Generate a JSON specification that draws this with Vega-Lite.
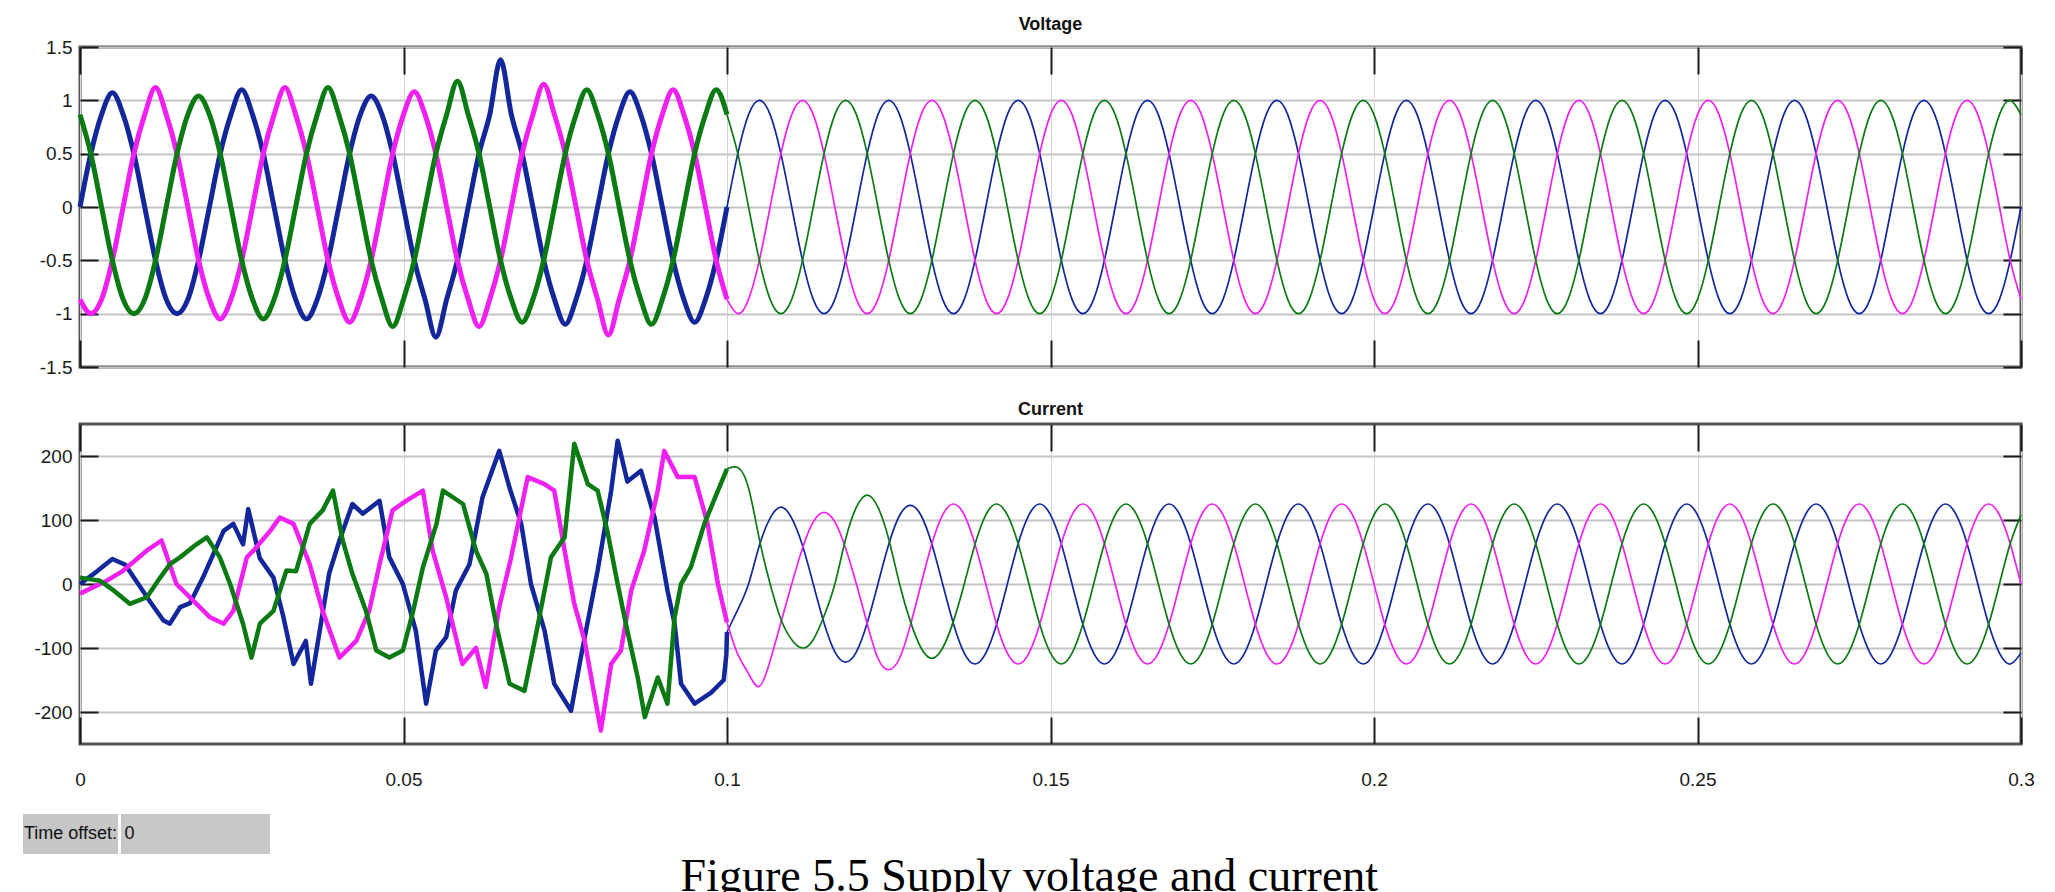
{
"$schema":"https://vega.github.io/schema/vega-lite/v6.json",
"background":"white",
"padding":{"left":23,"top":14,"right":0,"bottom":0},
"config":{
 "font":"Liberation Sans Narrow, Liberation Sans",
 "view":{"stroke":"#555555","strokeWidth":3},
 "axis":{"labelFont":"Liberation Sans Narrow, Liberation Sans","labelFontSize":19,"labelColor":"#1a1a1a","domain":false,"tickColor":"#1a1a1a","tickWidth":2},
 "title":{"font":"Liberation Sans Narrow, Liberation Sans","fontSize":18,"fontWeight":"bold","color":"#111","offset":0,"anchor":"middle"}
},
"title":{"text":"Figure 5.5 Supply voltage and current","orient":"bottom","anchor":"middle","font":"Liberation Serif","fontSize":46,"fontWeight":"normal","color":"#000","offset":1},
"datasets":{
"volt":[
{"t":0,"a":0,"b":-0.866,"c":0.866},{"t":0.00167,"a":0.5,"b":-1,"c":0.5},{"t":0.00333,"a":0.866,"b":-0.866,"c":0},{"t":0.005,"a":1.07,"b":-0.5,"c":-0.5},{"t":0.00667,"a":0.866,"b":0,"c":-0.866},{"t":0.00833,"a":0.5,"b":0.5,"c":-1},{"t":0.01,"a":0,"b":0.866,"c":-0.866},{"t":0.01167,"a":-0.5,"b":1.12,"c":-0.5},{"t":0.01333,"a":-0.866,"b":0.866,"c":0},{"t":0.015,"a":-1,"b":0.5,"c":0.5},{"t":0.01667,"a":-0.866,"b":0,"c":0.866},{"t":0.01833,"a":-0.5,"b":-0.5,"c":1.04},
{"t":0.02,"a":0,"b":-0.866,"c":0.866},{"t":0.02167,"a":0.5,"b":-1.05,"c":0.5},{"t":0.02333,"a":0.866,"b":-0.866,"c":0},{"t":0.025,"a":1.1,"b":-0.5,"c":-0.5},{"t":0.02667,"a":0.866,"b":0,"c":-0.866},{"t":0.02833,"a":0.5,"b":0.5,"c":-1.05},{"t":0.03,"a":0,"b":0.866,"c":-0.866},{"t":0.03167,"a":-0.5,"b":1.12,"c":-0.5},{"t":0.03333,"a":-0.866,"b":0.866,"c":0},{"t":0.035,"a":-1.05,"b":0.5,"c":0.5},{"t":0.03667,"a":-0.866,"b":0,"c":0.866},{"t":0.03833,"a":-0.5,"b":-0.5,"c":1.12},
{"t":0.04,"a":0,"b":-0.866,"c":0.866},{"t":0.04167,"a":0.5,"b":-1.08,"c":0.5},{"t":0.04333,"a":0.866,"b":-0.866,"c":0},{"t":0.045,"a":1.04,"b":-0.5,"c":-0.5},{"t":0.04667,"a":0.866,"b":0,"c":-0.866},{"t":0.04833,"a":0.5,"b":0.5,"c":-1.12},{"t":0.05,"a":0,"b":0.866,"c":-0.866},{"t":0.05167,"a":-0.5,"b":1.08,"c":-0.5},{"t":0.05333,"a":-0.866,"b":0.866,"c":0},{"t":0.055,"a":-1.22,"b":0.5,"c":0.5},{"t":0.05667,"a":-0.866,"b":0,"c":0.866},{"t":0.05833,"a":-0.5,"b":-0.5,"c":1.18},
{"t":0.06,"a":0,"b":-0.866,"c":0.866},{"t":0.06167,"a":0.5,"b":-1.12,"c":0.5},{"t":0.06333,"a":0.866,"b":-0.866,"c":0},{"t":0.065,"a":1.38,"b":-0.5,"c":-0.5},{"t":0.06667,"a":0.866,"b":0,"c":-0.866},{"t":0.06833,"a":0.5,"b":0.5,"c":-1.08},{"t":0.07,"a":0,"b":0.866,"c":-0.866},{"t":0.07167,"a":-0.5,"b":1.15,"c":-0.5},{"t":0.07333,"a":-0.866,"b":0.866,"c":0},{"t":0.075,"a":-1.1,"b":0.5,"c":0.5},{"t":0.07667,"a":-0.866,"b":0,"c":0.866},{"t":0.07833,"a":-0.5,"b":-0.5,"c":1.1},
{"t":0.08,"a":0,"b":-0.866,"c":0.866},{"t":0.08167,"a":0.5,"b":-1.2,"c":0.5},{"t":0.08333,"a":0.866,"b":-0.866,"c":0},{"t":0.085,"a":1.08,"b":-0.5,"c":-0.5},{"t":0.08667,"a":0.866,"b":0,"c":-0.866},{"t":0.08833,"a":0.5,"b":0.5,"c":-1.1},{"t":0.09,"a":0,"b":0.866,"c":-0.866},{"t":0.09167,"a":-0.5,"b":1.1,"c":-0.5},{"t":0.09333,"a":-0.866,"b":0.866,"c":0},{"t":0.095,"a":-1.08,"b":0.5,"c":0.5},{"t":0.09667,"a":-0.866,"b":0,"c":0.866},{"t":0.09833,"a":-0.5,"b":-0.5,"c":1.1},
{"t":0.1,"a":0,"b":-0.866,"c":0.866},{"t":0.10167,"a":0.5,"b":-1,"c":0.5},{"t":0.10333,"a":0.866,"b":-0.866,"c":0},{"t":0.105,"a":1,"b":-0.5,"c":-0.5},{"t":0.10667,"a":0.866,"b":0,"c":-0.866},{"t":0.10833,"a":0.5,"b":0.5,"c":-1},{"t":0.11,"a":0,"b":0.866,"c":-0.866},{"t":0.11167,"a":-0.5,"b":1,"c":-0.5},{"t":0.11333,"a":-0.866,"b":0.866,"c":0},{"t":0.115,"a":-1,"b":0.5,"c":0.5},{"t":0.11667,"a":-0.866,"b":0,"c":0.866},{"t":0.11833,"a":-0.5,"b":-0.5,"c":1},
{"t":0.12,"a":0,"b":-0.866,"c":0.866},{"t":0.12167,"a":0.5,"b":-1,"c":0.5},{"t":0.12333,"a":0.866,"b":-0.866,"c":0},{"t":0.125,"a":1,"b":-0.5,"c":-0.5},{"t":0.12667,"a":0.866,"b":0,"c":-0.866},{"t":0.12833,"a":0.5,"b":0.5,"c":-1},{"t":0.13,"a":0,"b":0.866,"c":-0.866},{"t":0.13167,"a":-0.5,"b":1,"c":-0.5},{"t":0.13333,"a":-0.866,"b":0.866,"c":0},{"t":0.135,"a":-1,"b":0.5,"c":0.5},{"t":0.13667,"a":-0.866,"b":0,"c":0.866},{"t":0.13833,"a":-0.5,"b":-0.5,"c":1},
{"t":0.14,"a":0,"b":-0.866,"c":0.866},{"t":0.14167,"a":0.5,"b":-1,"c":0.5},{"t":0.14333,"a":0.866,"b":-0.866,"c":0},{"t":0.145,"a":1,"b":-0.5,"c":-0.5},{"t":0.14667,"a":0.866,"b":0,"c":-0.866},{"t":0.14833,"a":0.5,"b":0.5,"c":-1},{"t":0.15,"a":0,"b":0.866,"c":-0.866},{"t":0.15167,"a":-0.5,"b":1,"c":-0.5},{"t":0.15333,"a":-0.866,"b":0.866,"c":0},{"t":0.155,"a":-1,"b":0.5,"c":0.5},{"t":0.15667,"a":-0.866,"b":0,"c":0.866},{"t":0.15833,"a":-0.5,"b":-0.5,"c":1},
{"t":0.16,"a":0,"b":-0.866,"c":0.866},{"t":0.16167,"a":0.5,"b":-1,"c":0.5},{"t":0.16333,"a":0.866,"b":-0.866,"c":0},{"t":0.165,"a":1,"b":-0.5,"c":-0.5},{"t":0.16667,"a":0.866,"b":0,"c":-0.866},{"t":0.16833,"a":0.5,"b":0.5,"c":-1},{"t":0.17,"a":0,"b":0.866,"c":-0.866},{"t":0.17167,"a":-0.5,"b":1,"c":-0.5},{"t":0.17333,"a":-0.866,"b":0.866,"c":0},{"t":0.175,"a":-1,"b":0.5,"c":0.5},{"t":0.17667,"a":-0.866,"b":0,"c":0.866},{"t":0.17833,"a":-0.5,"b":-0.5,"c":1},
{"t":0.18,"a":0,"b":-0.866,"c":0.866},{"t":0.18167,"a":0.5,"b":-1,"c":0.5},{"t":0.18333,"a":0.866,"b":-0.866,"c":0},{"t":0.185,"a":1,"b":-0.5,"c":-0.5},{"t":0.18667,"a":0.866,"b":0,"c":-0.866},{"t":0.18833,"a":0.5,"b":0.5,"c":-1},{"t":0.19,"a":0,"b":0.866,"c":-0.866},{"t":0.19167,"a":-0.5,"b":1,"c":-0.5},{"t":0.19333,"a":-0.866,"b":0.866,"c":0},{"t":0.195,"a":-1,"b":0.5,"c":0.5},{"t":0.19667,"a":-0.866,"b":0,"c":0.866},{"t":0.19833,"a":-0.5,"b":-0.5,"c":1},
{"t":0.2,"a":0,"b":-0.866,"c":0.866},{"t":0.20167,"a":0.5,"b":-1,"c":0.5},{"t":0.20333,"a":0.866,"b":-0.866,"c":0},{"t":0.205,"a":1,"b":-0.5,"c":-0.5},{"t":0.20667,"a":0.866,"b":0,"c":-0.866},{"t":0.20833,"a":0.5,"b":0.5,"c":-1},{"t":0.21,"a":0,"b":0.866,"c":-0.866},{"t":0.21167,"a":-0.5,"b":1,"c":-0.5},{"t":0.21333,"a":-0.866,"b":0.866,"c":0},{"t":0.215,"a":-1,"b":0.5,"c":0.5},{"t":0.21667,"a":-0.866,"b":0,"c":0.866},{"t":0.21833,"a":-0.5,"b":-0.5,"c":1},
{"t":0.22,"a":0,"b":-0.866,"c":0.866},{"t":0.22167,"a":0.5,"b":-1,"c":0.5},{"t":0.22333,"a":0.866,"b":-0.866,"c":0},{"t":0.225,"a":1,"b":-0.5,"c":-0.5},{"t":0.22667,"a":0.866,"b":0,"c":-0.866},{"t":0.22833,"a":0.5,"b":0.5,"c":-1},{"t":0.23,"a":0,"b":0.866,"c":-0.866},{"t":0.23167,"a":-0.5,"b":1,"c":-0.5},{"t":0.23333,"a":-0.866,"b":0.866,"c":0},{"t":0.235,"a":-1,"b":0.5,"c":0.5},{"t":0.23667,"a":-0.866,"b":0,"c":0.866},{"t":0.23833,"a":-0.5,"b":-0.5,"c":1},
{"t":0.24,"a":0,"b":-0.866,"c":0.866},{"t":0.24167,"a":0.5,"b":-1,"c":0.5},{"t":0.24333,"a":0.866,"b":-0.866,"c":0},{"t":0.245,"a":1,"b":-0.5,"c":-0.5},{"t":0.24667,"a":0.866,"b":0,"c":-0.866},{"t":0.24833,"a":0.5,"b":0.5,"c":-1},{"t":0.25,"a":0,"b":0.866,"c":-0.866},{"t":0.25167,"a":-0.5,"b":1,"c":-0.5},{"t":0.25333,"a":-0.866,"b":0.866,"c":0},{"t":0.255,"a":-1,"b":0.5,"c":0.5},{"t":0.25667,"a":-0.866,"b":0,"c":0.866},{"t":0.25833,"a":-0.5,"b":-0.5,"c":1},
{"t":0.26,"a":0,"b":-0.866,"c":0.866},{"t":0.26167,"a":0.5,"b":-1,"c":0.5},{"t":0.26333,"a":0.866,"b":-0.866,"c":0},{"t":0.265,"a":1,"b":-0.5,"c":-0.5},{"t":0.26667,"a":0.866,"b":0,"c":-0.866},{"t":0.26833,"a":0.5,"b":0.5,"c":-1},{"t":0.27,"a":0,"b":0.866,"c":-0.866},{"t":0.27167,"a":-0.5,"b":1,"c":-0.5},{"t":0.27333,"a":-0.866,"b":0.866,"c":0},{"t":0.275,"a":-1,"b":0.5,"c":0.5},{"t":0.27667,"a":-0.866,"b":0,"c":0.866},{"t":0.27833,"a":-0.5,"b":-0.5,"c":1},
{"t":0.28,"a":0,"b":-0.866,"c":0.866},{"t":0.28167,"a":0.5,"b":-1,"c":0.5},{"t":0.28333,"a":0.866,"b":-0.866,"c":0},{"t":0.285,"a":1,"b":-0.5,"c":-0.5},{"t":0.28667,"a":0.866,"b":0,"c":-0.866},{"t":0.28833,"a":0.5,"b":0.5,"c":-1},{"t":0.29,"a":0,"b":0.866,"c":-0.866},{"t":0.29167,"a":-0.5,"b":1,"c":-0.5},{"t":0.29333,"a":-0.866,"b":0.866,"c":0},{"t":0.295,"a":-1,"b":0.5,"c":0.5},{"t":0.29667,"a":-0.866,"b":0,"c":0.866},{"t":0.29833,"a":-0.5,"b":-0.5,"c":1},
{"t":0.3,"a":0,"b":-0.866,"c":0.866}
],
"cur":[
{"t":0.1,"a":-75,"b":-60,"c":180},{"t":0.10167,"a":-40,"b":-110,"c":182},{"t":0.10333,"a":0,"b":-140,"c":150},{"t":0.105,"a":60,"b":-160,"c":70},{"t":0.10667,"a":103,"b":-120,"c":0},{"t":0.10833,"a":120,"b":-60,"c":-55},{"t":0.11,"a":103,"b":0,"c":-87},{"t":0.11167,"a":60,"b":56,"c":-100},{"t":0.11333,"a":0,"b":97,"c":-87},{"t":0.115,"a":-61,"b":112,"c":-50},{"t":0.11667,"a":-106,"b":97,"c":0},{"t":0.11833,"a":-122,"b":56,"c":70},
{"t":0.12,"a":-106,"b":0,"c":120},{"t":0.12167,"a":-61,"b":-62,"c":139},{"t":0.12333,"a":0,"b":-116,"c":120},{"t":0.125,"a":62,"b":-134,"c":70},{"t":0.12667,"a":107,"b":-116,"c":0},{"t":0.12833,"a":123,"b":-65,"c":-58},{"t":0.13,"a":107,"b":0,"c":-100},{"t":0.13167,"a":62,"b":63,"c":-116},{"t":0.13333,"a":0,"b":108,"c":-100},{"t":0.135,"a":-62,"b":125,"c":-58},{"t":0.13667,"a":-108,"b":108,"c":0},{"t":0.13833,"a":-125,"b":62,"c":62},
{"t":0.14,"a":-108,"b":0,"c":108},{"t":0.14167,"a":-63,"b":-63,"c":125},{"t":0.14333,"a":0,"b":-108,"c":108},{"t":0.145,"a":63,"b":-125,"c":63},{"t":0.14667,"a":108,"b":-108,"c":0},{"t":0.14833,"a":125,"b":-63,"c":-63},{"t":0.15,"a":108,"b":0,"c":-108},{"t":0.15167,"a":63,"b":63,"c":-125},{"t":0.15333,"a":0,"b":108,"c":-108},{"t":0.155,"a":-63,"b":125,"c":-63},{"t":0.15667,"a":-108,"b":108,"c":0},{"t":0.15833,"a":-125,"b":63,"c":63},
{"t":0.16,"a":-108,"b":0,"c":108},{"t":0.16167,"a":-63,"b":-63,"c":125},{"t":0.16333,"a":0,"b":-108,"c":108},{"t":0.165,"a":63,"b":-125,"c":63},{"t":0.16667,"a":108,"b":-108,"c":0},{"t":0.16833,"a":125,"b":-63,"c":-63},{"t":0.17,"a":108,"b":0,"c":-108},{"t":0.17167,"a":63,"b":63,"c":-125},{"t":0.17333,"a":0,"b":108,"c":-108},{"t":0.175,"a":-63,"b":125,"c":-63},{"t":0.17667,"a":-108,"b":108,"c":0},{"t":0.17833,"a":-125,"b":63,"c":63},
{"t":0.18,"a":-108,"b":0,"c":108},{"t":0.18167,"a":-63,"b":-63,"c":125},{"t":0.18333,"a":0,"b":-108,"c":108},{"t":0.185,"a":63,"b":-125,"c":63},{"t":0.18667,"a":108,"b":-108,"c":0},{"t":0.18833,"a":125,"b":-63,"c":-63},{"t":0.19,"a":108,"b":0,"c":-108},{"t":0.19167,"a":63,"b":63,"c":-125},{"t":0.19333,"a":0,"b":108,"c":-108},{"t":0.195,"a":-63,"b":125,"c":-63},{"t":0.19667,"a":-108,"b":108,"c":0},{"t":0.19833,"a":-125,"b":63,"c":63},
{"t":0.2,"a":-108,"b":0,"c":108},{"t":0.20167,"a":-63,"b":-63,"c":125},{"t":0.20333,"a":0,"b":-108,"c":108},{"t":0.205,"a":63,"b":-125,"c":63},{"t":0.20667,"a":108,"b":-108,"c":0},{"t":0.20833,"a":125,"b":-63,"c":-63},{"t":0.21,"a":108,"b":0,"c":-108},{"t":0.21167,"a":63,"b":63,"c":-125},{"t":0.21333,"a":0,"b":108,"c":-108},{"t":0.215,"a":-63,"b":125,"c":-63},{"t":0.21667,"a":-108,"b":108,"c":0},{"t":0.21833,"a":-125,"b":63,"c":63},
{"t":0.22,"a":-108,"b":0,"c":108},{"t":0.22167,"a":-63,"b":-63,"c":125},{"t":0.22333,"a":0,"b":-108,"c":108},{"t":0.225,"a":63,"b":-125,"c":63},{"t":0.22667,"a":108,"b":-108,"c":0},{"t":0.22833,"a":125,"b":-63,"c":-63},{"t":0.23,"a":108,"b":0,"c":-108},{"t":0.23167,"a":63,"b":63,"c":-125},{"t":0.23333,"a":0,"b":108,"c":-108},{"t":0.235,"a":-63,"b":125,"c":-63},{"t":0.23667,"a":-108,"b":108,"c":0},{"t":0.23833,"a":-125,"b":63,"c":63},
{"t":0.24,"a":-108,"b":0,"c":108},{"t":0.24167,"a":-63,"b":-63,"c":125},{"t":0.24333,"a":0,"b":-108,"c":108},{"t":0.245,"a":63,"b":-125,"c":63},{"t":0.24667,"a":108,"b":-108,"c":0},{"t":0.24833,"a":125,"b":-63,"c":-63},{"t":0.25,"a":108,"b":0,"c":-108},{"t":0.25167,"a":63,"b":63,"c":-125},{"t":0.25333,"a":0,"b":108,"c":-108},{"t":0.255,"a":-63,"b":125,"c":-63},{"t":0.25667,"a":-108,"b":108,"c":0},{"t":0.25833,"a":-125,"b":63,"c":63},
{"t":0.26,"a":-108,"b":0,"c":108},{"t":0.26167,"a":-63,"b":-63,"c":125},{"t":0.26333,"a":0,"b":-108,"c":108},{"t":0.265,"a":63,"b":-125,"c":63},{"t":0.26667,"a":108,"b":-108,"c":0},{"t":0.26833,"a":125,"b":-63,"c":-63},{"t":0.27,"a":108,"b":0,"c":-108},{"t":0.27167,"a":63,"b":63,"c":-125},{"t":0.27333,"a":0,"b":108,"c":-108},{"t":0.275,"a":-63,"b":125,"c":-63},{"t":0.27667,"a":-108,"b":108,"c":0},{"t":0.27833,"a":-125,"b":63,"c":63},
{"t":0.28,"a":-108,"b":0,"c":108},{"t":0.28167,"a":-63,"b":-63,"c":125},{"t":0.28333,"a":0,"b":-108,"c":108},{"t":0.285,"a":63,"b":-125,"c":63},{"t":0.28667,"a":108,"b":-108,"c":0},{"t":0.28833,"a":125,"b":-63,"c":-63},{"t":0.29,"a":108,"b":0,"c":-108},{"t":0.29167,"a":63,"b":63,"c":-125},{"t":0.29333,"a":0,"b":108,"c":-108},{"t":0.295,"a":-63,"b":125,"c":-63},{"t":0.29667,"a":-108,"b":108,"c":0},{"t":0.29833,"a":-125,"b":63,"c":63},
{"t":0.3,"a":-108,"b":0,"c":108}
],
"curT":[
{"p":"a","t":0,"y":0},{"p":"a","t":0.002,"y":15},{"p":"a","t":0.005,"y":39},{"p":"a","t":0.007,"y":30},{"p":"a","t":0.009,"y":0},{"p":"a","t":0.011,"y":-30},{"p":"a","t":0.0129,"y":-57},{"p":"a","t":0.0139,"y":-62},{"p":"a","t":0.0155,"y":-36},{"p":"a","t":0.017,"y":-30},{"p":"a","t":0.019,"y":10},{"p":"a","t":0.0222,"y":83},{"p":"a","t":0.0237,"y":94},{"p":"a","t":0.0252,"y":62},{"p":"a","t":0.026,"y":117},{"p":"a","t":0.0278,"y":40},{"p":"a","t":0.0299,"y":10},{"p":"a","t":0.0314,"y":-50},{"p":"a","t":0.033,"y":-125},{"p":"a","t":0.0349,"y":-89},{"p":"a","t":0.0357,"y":-156},{"p":"a","t":0.0385,"y":16},{"p":"a","t":0.0401,"y":68},{"p":"a","t":0.0421,"y":125},{"p":"a","t":0.0437,"y":110},{"p":"a","t":0.0463,"y":130},{"p":"a","t":0.0478,"y":42},{"p":"a","t":0.0499,"y":0},{"p":"a","t":0.0519,"y":-73},{"p":"a","t":0.0535,"y":-187},{"p":"a","t":0.055,"y":-104},{"p":"a","t":0.0566,"y":-83},{"p":"a","t":0.0581,"y":-10},{"p":"a","t":0.0602,"y":31},{"p":"a","t":0.0622,"y":135},{"p":"a","t":0.0648,"y":208},{"p":"a","t":0.0664,"y":150},{"p":"a","t":0.0682,"y":94},{"p":"a","t":0.0697,"y":0},{"p":"a","t":0.0718,"y":-73},{"p":"a","t":0.0733,"y":-156},{"p":"a","t":0.0759,"y":-198},{"p":"a","t":0.0774,"y":-115},{"p":"a","t":0.08,"y":21},{"p":"a","t":0.0821,"y":146},{"p":"a","t":0.0831,"y":224},{"p":"a","t":0.0846,"y":160},{"p":"a","t":0.0867,"y":177},{"p":"a","t":0.0888,"y":104},{"p":"a","t":0.0908,"y":-10},{"p":"a","t":0.0919,"y":-62},{"p":"a","t":0.0929,"y":-156},{"p":"a","t":0.095,"y":-187},{"p":"a","t":0.0975,"y":-170},{"p":"a","t":0.0995,"y":-150},{"p":"a","t":0.0999,"y":-110},{"p":"a","t":0.1,"y":-75},
{"p":"b","t":0,"y":-15},{"p":"b","t":0.0041,"y":5},{"p":"b","t":0.0067,"y":21},{"p":"b","t":0.0103,"y":52},{"p":"b","t":0.0126,"y":68},{"p":"b","t":0.0149,"y":0},{"p":"b","t":0.017,"y":-21},{"p":"b","t":0.0201,"y":-52},{"p":"b","t":0.0222,"y":-62},{"p":"b","t":0.0237,"y":-42},{"p":"b","t":0.0258,"y":42},{"p":"b","t":0.0268,"y":52},{"p":"b","t":0.0294,"y":83},{"p":"b","t":0.0309,"y":104},{"p":"b","t":0.033,"y":94},{"p":"b","t":0.0355,"y":31},{"p":"b","t":0.0375,"y":-42},{"p":"b","t":0.0401,"y":-115},{"p":"b","t":0.0427,"y":-89},{"p":"b","t":0.0447,"y":-42},{"p":"b","t":0.0463,"y":31},{"p":"b","t":0.0483,"y":115},{"p":"b","t":0.0504,"y":130},{"p":"b","t":0.053,"y":146},{"p":"b","t":0.0545,"y":52},{"p":"b","t":0.0566,"y":-21},{"p":"b","t":0.0591,"y":-125},{"p":"b","t":0.0612,"y":-100},{"p":"b","t":0.0627,"y":-161},{"p":"b","t":0.0648,"y":-36},{"p":"b","t":0.0666,"y":40},{"p":"b","t":0.0692,"y":167},{"p":"b","t":0.0718,"y":156},{"p":"b","t":0.0733,"y":146},{"p":"b","t":0.0749,"y":52},{"p":"b","t":0.0764,"y":-31},{"p":"b","t":0.078,"y":-89},{"p":"b","t":0.0805,"y":-229},{"p":"b","t":0.0821,"y":-125},{"p":"b","t":0.0836,"y":-104},{"p":"b","t":0.0852,"y":-10},{"p":"b","t":0.0872,"y":52},{"p":"b","t":0.0893,"y":146},{"p":"b","t":0.0903,"y":208},{"p":"b","t":0.0924,"y":167},{"p":"b","t":0.095,"y":167},{"p":"b","t":0.097,"y":94},{"p":"b","t":0.0986,"y":0},{"p":"b","t":0.1,"y":-60},
{"p":"c","t":0,"y":10},{"p":"c","t":0.0031,"y":5},{"p":"c","t":0.0052,"y":-10},{"p":"c","t":0.0077,"y":-31},{"p":"c","t":0.0103,"y":-21},{"p":"c","t":0.0124,"y":10},{"p":"c","t":0.0139,"y":31},{"p":"c","t":0.0155,"y":42},{"p":"c","t":0.018,"y":62},{"p":"c","t":0.0196,"y":73},{"p":"c","t":0.0216,"y":42},{"p":"c","t":0.0232,"y":0},{"p":"c","t":0.0252,"y":-62},{"p":"c","t":0.0265,"y":-115},{"p":"c","t":0.0278,"y":-62},{"p":"c","t":0.0299,"y":-42},{"p":"c","t":0.0319,"y":21},{"p":"c","t":0.0334,"y":20},{"p":"c","t":0.0355,"y":94},{"p":"c","t":0.0375,"y":115},{"p":"c","t":0.0391,"y":146},{"p":"c","t":0.0406,"y":68},{"p":"c","t":0.0421,"y":16},{"p":"c","t":0.0442,"y":-42},{"p":"c","t":0.0458,"y":-104},{"p":"c","t":0.0478,"y":-115},{"p":"c","t":0.0499,"y":-104},{"p":"c","t":0.0515,"y":-42},{"p":"c","t":0.053,"y":26},{"p":"c","t":0.0551,"y":94},{"p":"c","t":0.0561,"y":146},{"p":"c","t":0.0592,"y":125},{"p":"c","t":0.0612,"y":52},{"p":"c","t":0.0628,"y":16},{"p":"c","t":0.0643,"y":-62},{"p":"c","t":0.0664,"y":-156},{"p":"c","t":0.0687,"y":-167},{"p":"c","t":0.0708,"y":-62},{"p":"c","t":0.0728,"y":42},{"p":"c","t":0.0749,"y":73},{"p":"c","t":0.0764,"y":219},{"p":"c","t":0.0785,"y":156},{"p":"c","t":0.08,"y":146},{"p":"c","t":0.0815,"y":83},{"p":"c","t":0.0831,"y":0},{"p":"c","t":0.0846,"y":-73},{"p":"c","t":0.0862,"y":-146},{"p":"c","t":0.0873,"y":-208},{"p":"c","t":0.0893,"y":-146},{"p":"c","t":0.0908,"y":-187},{"p":"c","t":0.0919,"y":-52},{"p":"c","t":0.0929,"y":0},{"p":"c","t":0.0944,"y":26},{"p":"c","t":0.0965,"y":94},{"p":"c","t":0.0986,"y":146},{"p":"c","t":0.1,"y":180}
]
},
"spacing":23,
"vconcat":[
{"spacing":0,"hconcat":[
 {"width":1,"height":1,"view":{"stroke":null,"fill":null},"data":{"values":[]},"mark":"point"},
 {"spacing":20,"vconcat":[
  {"width":1941,"height":320,
   "title":{"text":"Voltage"},
   "data":{"name":"volt"},
   "transform":[{"fold":["a","b","c"],"as":["p","y"]}],
   "resolve":{"axis":{"x":"independent","y":"independent"}},
   "layer":[
    {"transform":[{"filter":"datum.t >= 0.1"}],
     "mark":{"type":"line","interpolate":"natural","strokeWidth":1.7},
     "encoding":{
      "x":{"field":"t","type":"quantitative","scale":{"domain":[0,0.3],"nice":false},
           "axis":{"orient":"bottom","values":[0,0.05,0.1,0.15,0.2,0.25,0.3],"labels":false,"grid":true,"gridColor":"#d6d6d6","gridWidth":1,"tickSize":-27,"title":null}},
      "y":{"field":"y","type":"quantitative","scale":{"domain":[-1.5,1.5],"nice":false},
           "axis":{"orient":"left","values":[-1.5,-1,-0.5,0,0.5,1,1.5],"labelExpr":"'' + datum.value","grid":true,"gridColor":"#c4c4c4","gridWidth":2,"tickSize":-18,"labelPadding":26,"minExtent":54,"maxExtent":54,"title":null}},
      "color":{"field":"p","type":"nominal","scale":{"domain":["a","b","c"],"range":["#13279a","#f020f0","#0b7a12"]},"legend":null}
     }},
    {"transform":[{"filter":"datum.t <= 0.1"}],
     "mark":{"type":"line","interpolate":"monotone","strokeWidth":5},
     "encoding":{
      "x":{"field":"t","type":"quantitative","scale":{"domain":[0,0.3],"nice":false},
           "axis":{"orient":"top","values":[0,0.05,0.1,0.15,0.2,0.25,0.3],"labels":false,"grid":false,"tickSize":-27,"title":null}},
      "y":{"field":"y","type":"quantitative","scale":{"domain":[-1.5,1.5],"nice":false},
           "axis":{"orient":"right","values":[-1.5,-1,-0.5,0,0.5,1,1.5],"labels":false,"grid":false,"tickSize":-18,"title":null}},
      "color":{"field":"p","type":"nominal","scale":{"domain":["a","b","c"],"range":["#13279a","#f020f0","#0b7a12"]},"legend":null}
     }}
   ]},
  {"width":1941,"height":320,
   "title":{"text":"Current"},
   "resolve":{"axis":{"x":"independent","y":"independent"}},
   "layer":[
    {"data":{"name":"cur"},
     "transform":[{"fold":["a","b","c"],"as":["p","y"]}],
     "mark":{"type":"line","interpolate":"natural","strokeWidth":1.7},
     "encoding":{
      "x":{"field":"t","type":"quantitative","scale":{"domain":[0,0.3],"nice":false},
           "axis":{"orient":"bottom","values":[0,0.05,0.1,0.15,0.2,0.25,0.3],"labelExpr":"'' + datum.value","labelFlush":false,"labelPadding":53,"grid":true,"gridColor":"#d6d6d6","gridWidth":1,"tickSize":-27,"title":null}},
      "y":{"field":"y","type":"quantitative","scale":{"domain":[-250,250],"nice":false},
           "axis":{"orient":"left","values":[-200,-100,0,100,200],"labelExpr":"'' + datum.value","grid":true,"gridColor":"#c4c4c4","gridWidth":2,"tickSize":-18,"labelPadding":26,"minExtent":54,"maxExtent":54,"title":null}},
      "color":{"field":"p","type":"nominal","scale":{"domain":["a","b","c"],"range":["#13279a","#f020f0","#0b7a12"]},"legend":null}
     }},
    {"data":{"name":"curT"},
     "mark":{"type":"line","interpolate":"linear","strokeWidth":4.5,"strokeJoin":"round"},
     "encoding":{
      "x":{"field":"t","type":"quantitative","scale":{"domain":[0,0.3],"nice":false},
           "axis":{"orient":"top","values":[0,0.05,0.1,0.15,0.2,0.25,0.3],"labels":false,"grid":false,"tickSize":-27,"title":null}},
      "y":{"field":"y","type":"quantitative","scale":{"domain":[-250,250],"nice":false},
           "axis":{"orient":"right","values":[-200,-100,0,100,200],"labels":false,"grid":false,"tickSize":-18,"title":null}},
      "color":{"field":"p","type":"nominal","scale":{"domain":["a","b","c"],"range":["#13279a","#f020f0","#0b7a12"]},"legend":null}
     }}
   ]}
 ]}
]},
{"spacing":3,"hconcat":[
 {"width":95,"height":40,"view":{"fill":"#c6c6c6","stroke":null},
  "data":{"values":[{"label":"Time offset:"}]},
  "mark":{"type":"text","font":"Liberation Sans Narrow, Liberation Sans","fontSize":18,"color":"#111","align":"center","baseline":"middle"},
  "encoding":{"text":{"field":"label"}}},
 {"width":149,"height":40,"view":{"fill":"#c8c8c8","stroke":null},
  "data":{"values":[{"label":"0"}]},
  "mark":{"type":"text","font":"Liberation Sans Narrow, Liberation Sans","fontSize":18,"color":"#111","align":"left","baseline":"middle","dx":-71},
  "encoding":{"text":{"field":"label"}}}
]}
]
}
